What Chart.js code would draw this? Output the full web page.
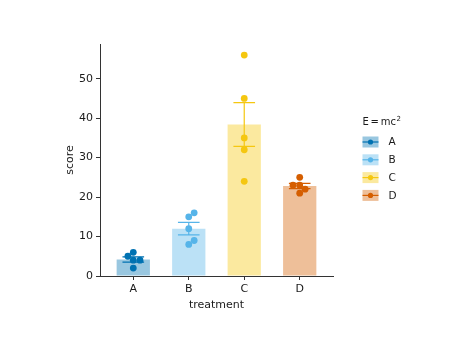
<!DOCTYPE html>
<html><head><meta charset="utf-8">
<script src="https://cdn.jsdelivr.net/npm/chart.js@4/dist/chart.umd.min.js"></script>
<style>html,body{margin:0;padding:0;background:#fff}</style>
</head><body>
<canvas id="c" width="474" height="355" style="width:474px;height:355px"></canvas>
<script>
// ---- data ----
const categories = ['A', 'B', 'C', 'D'];
const scoresA = [6, 5, 4, 4, 2];
const scoresB = [16, 15, 12, 9, 8];
const scoresC = [56, 45, 35, 32, 24];
const scoresD = [25, 23, 23, 22, 21];
const yTickValues = [0, 10, 20, 30, 40, 50];
const xAxisLabel = 'treatment';
const yAxisLabel = 'score';
const legendTitle = 'E = mc';
const legendTitleSup = '2';

// ---- styles ----
const pointColors = ['#0072B2', '#56B4E9', '#F5C710', '#D55E00'];
const barColors = ['rgba(0,114,178,0.4)', 'rgba(86,180,233,0.4)', 'rgba(245,199,16,0.4)', 'rgba(213,94,0,0.4)'];
const FONT = '"DejaVu Sans", sans-serif';
const TXT = '#1a1a1a';
const AXIS_FS = 11;

const groups = [scoresA, scoresB, scoresC, scoresD];
const mean = a => a.reduce((s, v) => s + v, 0) / a.length;
const sem = a => { const m = mean(a); return Math.sqrt(a.reduce((s, v) => s + (v - m) ** 2, 0) / (a.length - 1)) / Math.sqrt(a.length); };

// beeswarm offsets (computed in approx. pixel space, converted to category units)
const PX_PER_Y = 3.96, PX_PER_X = 55.5, DIAM = 6.7;
function swarm(vals) {
  const idx = vals.map((v, i) => i).sort((a, b) => vals[a] - vals[b]);
  const placed = [], off = new Array(vals.length);
  for (const i of idx) {
    const y = vals[i] * PX_PER_Y;
    const near = placed.filter(p => Math.abs(p.y - y) < DIAM - 1e-6);
    const cands = [0];
    near.forEach(p => { const dx = Math.sqrt(DIAM * DIAM - (p.y - y) ** 2); cands.push(p.x + dx, p.x - dx); });
    cands.sort((a, b) => (Math.abs(a) - Math.abs(b)) || (b - a));
    const x = cands.find(c => near.every(p => Math.hypot(p.x - c, p.y - y) >= DIAM - 1e-6));
    placed.push({x, y}); off[i] = x / PX_PER_X;
  }
  return off;
}

const CAP = 0.195;
const datasets = [];
datasets.push({
  type: 'bar', order: 3,
  data: groups.map((g, i) => ({x: i, y: mean(g)})),
  backgroundColor: barColors, borderWidth: 0,
  categoryPercentage: 0.6, barPercentage: 1.0
});
groups.forEach((g, i) => {
  const m = mean(g), s = sem(g), lo = m - s, hi = m + s;
  datasets.push({
    type: 'line', order: 2,
    data: [{x: i, y: lo}, {x: i, y: hi}, {x: i, y: null},
           {x: i - CAP, y: hi}, {x: i + CAP, y: hi}, {x: i, y: null},
           {x: i - CAP, y: lo}, {x: i + CAP, y: lo}],
    borderColor: pointColors[i], borderWidth: 1.2, pointRadius: 0, spanGaps: false, fill: false, tension: 0
  });
  const offs = swarm(g);
  datasets.push({
    type: 'scatter', order: 1,
    data: g.map((v, k) => ({x: i + offs[k], y: v})),
    backgroundColor: pointColors[i], borderWidth: 0, pointRadius: 3.4, pointHoverRadius: 3.4
  });
});

const legendPlugin = {
  id: 'customLegend',
  afterDraw(chart) {
    const ctx = chart.ctx;
    ctx.save();
    const x0 = 362.5;
    ctx.fillStyle = TXT;
    ctx.textBaseline = 'alphabetic';
    ctx.textAlign = 'left';
    ctx.font = '10px ' + FONT;
    const parts = legendTitle.split(' ');
    let x = x0;
    parts.forEach((p, k) => { ctx.fillText(p, x, 125.3); x += ctx.measureText(p).width + (k < parts.length - 1 ? 1.8 : 0); });
    ctx.font = '7px ' + FONT;
    ctx.fillText(legendTitleSup, x + 0.5, 121);
    ctx.font = '10.5px ' + FONT;
    ctx.textBaseline = 'middle';
    categories.forEach((c, i) => {
      const cy = 142 + i * 17.8;
      ctx.fillStyle = barColors[i];
      ctx.fillRect(x0, cy - 5.5, 16, 11);
      ctx.strokeStyle = pointColors[i]; ctx.lineWidth = 1.2;
      ctx.beginPath(); ctx.moveTo(x0, cy); ctx.lineTo(x0 + 16, cy); ctx.stroke();
      ctx.fillStyle = pointColors[i];
      ctx.beginPath(); ctx.arc(x0 + 8, cy, 2.6, 0, Math.PI * 2); ctx.fill();
      ctx.fillStyle = TXT;
      ctx.fillText(c, 388.5, cy + 0.5);
    });
    ctx.restore();
  }
};

new Chart(document.getElementById('c'), {
  type: 'bar',
  data: {datasets},
  plugins: [legendPlugin],
  options: {
    responsive: false, animation: false, devicePixelRatio: 1,
    layout: {padding: {left: 0, top: 44, right: 141, bottom: 0}},
    plugins: {legend: {display: false}, tooltip: {enabled: false}},
    scales: {
      x: {
        type: 'linear', min: -0.6, max: 3.6, offset: false,
        afterFit: s => { s.height = 79; },
        afterBuildTicks: s => { s.ticks = categories.map((c, i) => ({value: i})); },
        ticks: {callback: v => categories[v], color: TXT, font: {family: FONT, size: AXIS_FS}, padding: 3, maxRotation: 0, autoSkip: false},
        grid: {display: true, offset: false, drawOnChartArea: false, drawTicks: true, tickLength: 4, tickColor: '#333', tickWidth: 1},
        border: {display: true, color: '#333', width: 1},
        title: {display: true, text: xAxisLabel, color: TXT, font: {family: FONT, size: AXIS_FS}, padding: {top: 0, bottom: 43.2}}
      },
      y: {
        type: 'linear', min: 0, max: 58.8,
        afterFit: s => { s.width = 100; },
        afterBuildTicks: s => { s.ticks = yTickValues.map(v => ({value: v})); },
        ticks: {color: TXT, font: {family: FONT, size: AXIS_FS}, padding: 3},
        grid: {display: true, offset: false, drawOnChartArea: false, drawTicks: true, tickLength: 4, tickColor: '#333', tickWidth: 1},
        border: {display: true, color: '#333', width: 1},
        title: {display: true, text: yAxisLabel, color: TXT, font: {family: FONT, size: AXIS_FS}, padding: {top: 63.6, bottom: 0}}
      }
    }
  }
});
</script>
</body></html>
